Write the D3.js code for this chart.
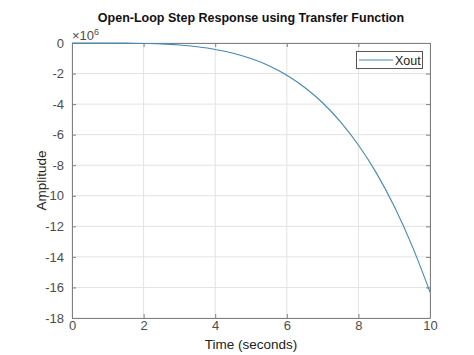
<!DOCTYPE html>
<html><head><meta charset="utf-8">
<script src="https://cdn.jsdelivr.net/npm/d3@7"></script>
<style>body{margin:0;background:#fff}svg{display:block;font-family:"Liberation Sans",Arial,sans-serif}</style>
</head><body>
<svg id="c" width="474" height="355"></svg>
<script>
const time = [0,0.5,1,1.5,2,2.5,3,3.5,4,4.5,5,5.5,6,6.5,7,7.5,8,8.5,9,9.5,10];
const xout = [0,0,0,-0.01,-0.03,-0.06,-0.13,-0.25,-0.42,-0.67,-1.02,-1.49,-2.11,-2.91,-3.91,-5.16,-6.68,-8.5,-10.69,-13.28,-16.3];
const xTicks = [0,2,4,6,8,10];
const yTicks = [0,-2,-4,-6,-8,-10,-12,-14,-16,-18];
const title = "Open-Loop Step Response using Transfer Function";
const xLabel = "Time (seconds)";
const yLabel = "Amplitude";
const seriesName = "Xout";

const L=72,R=430,T=43,B=318;
const svg=d3.select("#c");
const x=d3.scaleLinear().domain([0,10]).range([L,R]);
const y=d3.scaleLinear().domain([-18,0]).range([B,T]);
const axisCol="#808080", textCol="#4d4d4d", gridCol="#e3e3e3";

// grid
svg.append("g").selectAll("line").data(xTicks).join("line")
 .attr("x1",d=>x(d)).attr("x2",d=>x(d)).attr("y1",T).attr("y2",B).attr("stroke",gridCol);
svg.append("g").selectAll("line").data(yTicks).join("line")
 .attr("y1",d=>y(d)).attr("y2",d=>y(d)).attr("x1",L).attr("x2",R).attr("stroke",gridCol);

// axes
const gx=svg.append("g").attr("transform",`translate(0,${B})`)
 .call(d3.axisBottom(x).tickValues(xTicks).tickSizeInner(-4).tickSizeOuter(0).tickPadding(3));
const gxt=svg.append("g").attr("transform",`translate(0,${T})`)
 .call(d3.axisTop(x).tickValues(xTicks).tickSizeInner(-4).tickSizeOuter(0).tickFormat(""));
const gy=svg.append("g").attr("transform",`translate(${L},0)`)
 .call(d3.axisLeft(y).tickValues(yTicks).tickSizeInner(-4).tickSizeOuter(0).tickPadding(8).tickFormat(d=>String(d)));
const gyr=svg.append("g").attr("transform",`translate(${R},0)`)
 .call(d3.axisRight(y).tickValues(yTicks).tickSizeInner(-4).tickSizeOuter(0).tickFormat(""));
[gx,gxt,gy,gyr].forEach(g=>{
  g.selectAll("path").attr("stroke",axisCol).attr("stroke-width",1);
  g.selectAll("line").attr("stroke",axisCol);
  g.selectAll("text").attr("fill",textCol).style("font-size","13px").style("font-family","'Liberation Sans',Arial,sans-serif");
});

// line
svg.append("path").datum(time.map((t,i)=>[t,xout[i]]))
 .attr("fill","none").attr("stroke","#4089bd").attr("stroke-width",1.1)
 .attr("d",d3.line().x(d=>x(d[0])).y(d=>y(d[1])).curve(d3.curveMonotoneX));

// exponent
const ex=svg.append("text").attr("x",L).attr("y",40).attr("fill",textCol).style("font-size","13px");
ex.append("tspan").text("×10");
ex.append("tspan").attr("dy",-5).style("font-size","9px").text("6");

// title
svg.append("text").attr("x",(L+R)/2).attr("y",22).attr("text-anchor","middle")
 .style("font-size","12.5px").style("font-weight","bold").attr("fill","#111").text(title);
// labels
svg.append("text").attr("x",(L+R)/2).attr("y",349).attr("text-anchor","middle")
 .style("font-size","13.5px").attr("fill","#222").text(xLabel);
svg.append("text").attr("transform",`translate(46,${(T+B)/2}) rotate(-90)`).attr("text-anchor","middle")
 .style("font-size","13.5px").attr("fill","#222").text(yLabel);

// legend
const lg=svg.append("g");
lg.append("rect").attr("x",356.5).attr("y",51.5).attr("width",66).attr("height",17)
 .attr("fill","#fff").attr("stroke","#555").attr("stroke-width",1);
lg.append("line").attr("x1",359).attr("x2",393).attr("y1",60).attr("y2",60).attr("stroke","#4089bd").attr("stroke-width",1.1);
lg.append("text").attr("x",395).attr("y",64.5).style("font-size","12.5px").attr("fill","#222").text(seriesName);
</script>
</body></html>
